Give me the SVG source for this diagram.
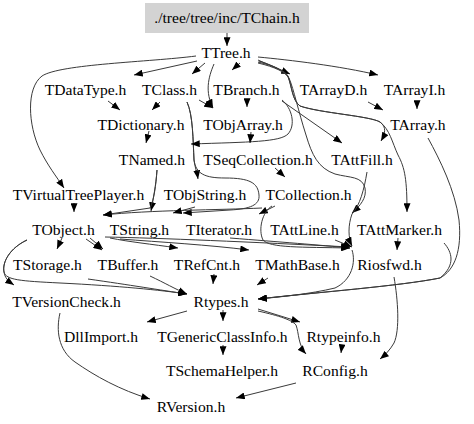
<svg xmlns="http://www.w3.org/2000/svg" width="474" height="424" viewBox="0 0 474 424">
<style>
.t text{font-size:15.6px;text-anchor:middle;fill:#000}
.e path{fill:none;stroke:#3a3a3a;stroke-width:1;marker-end:url(#ah)}
</style>
<defs>
<marker id="ah" viewBox="0 0 10 8" refX="10" refY="4" markerWidth="9" markerHeight="7" orient="auto" markerUnits="userSpaceOnUse"><path d="M0,0 L10,4 L0,8 z" fill="#000"/></marker>
</defs>
<rect width="474" height="424" fill="#fff"/>
<g class="e" id="edges">
<path d="M227,33 L227,46"/>
<path d="M196,56 C150,62 60,64 42,76 C26,88 28,125 40,150 C48,166 56,176 64,188"/>
<path d="M197,61 L134,75"/>
<path d="M205,63 L192,74"/>
<path d="M214,64 C208,78 205,92 213,108"/>
<path d="M199,100 L213,108"/>
<path d="M240,63 L232,70"/>
<path d="M258,60 L290,74"/>
<path d="M258,57 C290,60 340,66 378,75"/>
<path d="M258,62 C275,66 285,71 288,76 C292,86 292,100 300,106 C320,113 370,116 380,122 C387,127 385,134 381,141"/>
<path d="M258,63 C275,67 285,72 288,77 C292,87 292,100 300,106 C320,113 370,116 380,122 C390,130 392,142 398,155 C405,168 407,180 407,212"/>
<path d="M259,61 C275,66 286,72 289,78 C294,90 298,110 306,135 C312,155 318,168 335,174 C350,178 362,176 365,188 C367,198 360,206 352,213"/>
<path d="M108,101 L120,110"/>
<path d="M160,102 L152,110"/>
<path d="M187,102 C193,115 193,140 194,160 C195,168 197,172 198,179"/>
<path d="M187,102 C193,115 193,140 194,160 C196,174 205,178 225,178 C250,178 258,183 259,195 C260,205 250,209 230,210 L183,213"/>
<path d="M247,100 L247,107"/>
<path d="M282,100 C292,108 296,125 288,134 C280,142 250,142 191,144"/>
<path d="M282,101 L342,143"/>
<path d="M368,102 L383,110"/>
<path d="M417,101 L417,109"/>
<path d="M149,131 L146,143"/>
<path d="M251,132 L250,143"/>
<path d="M275,168 L285,177"/>
<path d="M157,170 C156,185 153,200 151,211"/>
<path d="M157,170 C156,185 154,200 150,208 L103,215"/>
<path d="M262,208 C220,210 150,210 103,215"/>
<path d="M195,207 L173,213"/>
<path d="M275,206 L259,214"/>
<path d="M74,203 L74,212"/>
<path d="M272,206 C262,212 258,230 263,240 C270,248 300,247 350,248"/>
<path d="M367,172 C364,190 360,205 352,214 C348,225 348,238 352,246"/>
<path d="M335,240 L352,247"/>
<path d="M398,238 L397,250"/>
<path d="M62,238 L57,249"/>
<path d="M86,239 L102,250"/>
<path d="M90,238 L103,249"/>
<path d="M110,238 C130,242 150,244 178,248"/>
<path d="M120,239 C160,242 210,245 249,250"/>
<path d="M105,237 C160,238 250,242 350,247"/>
<path d="M230,238 C280,242 320,245 350,248"/>
<path d="M27,240 C10,248 2,262 4,272 C5,278 8,281 14,285"/>
<path d="M27,240 C10,248 2,262 4,272 C6,280 20,281 60,283 C120,286 160,290 187,294"/>
<path d="M88,279 C130,285 160,290 187,294"/>
<path d="M150,276 C165,283 175,289 187,294"/>
<path d="M214,274 L213,284"/>
<path d="M268,278 L257,285"/>
<path d="M428,138 C440,160 455,190 459,220 C462,250 455,270 440,278 C400,286 320,292 258,299"/>
<path d="M444,243 C452,252 456,265 440,278 C400,286 320,292 258,299"/>
<path d="M352,250 C356,262 352,280 335,288 C310,294 280,297 258,299"/>
<path d="M394,277 C398,300 400,330 394,343 C390,350 385,355 380,359"/>
<path d="M187,311 L147,322"/>
<path d="M223,310 L223,321"/>
<path d="M258,309 L300,322"/>
<path d="M258,311 C280,316 292,320 296,325 C299,333 298,345 306,354"/>
<path d="M342,345 L341,353"/>
<path d="M223,345 L223,355"/>
<path d="M296,383 L236,398"/>
<path d="M60,313 C56,330 58,350 75,362 C95,376 120,390 150,399"/>
</g>
<g class="t" font-family="'Liberation Serif', 'DejaVu Serif', 'Times New Roman', serif">
<g id="n_TChain"><rect x="145" y="3" width="164" height="30" fill="#d3d3d3"/><text x="227" y="23">./tree/tree/inc/TChain.h</text></g>
<g id="n_TTree"><text x="226" y="58">TTree.h</text></g>
<g id="n_TDataType"><text x="85.5" y="95">TDataType.h</text></g>
<g id="n_TClass"><text x="169.5" y="95">TClass.h</text></g>
<g id="n_TBranch"><text x="246.5" y="95">TBranch.h</text></g>
<g id="n_TArrayD"><text x="333.5" y="95">TArrayD.h</text></g>
<g id="n_TArrayI"><text x="414.5" y="95">TArrayI.h</text></g>
<g id="n_TDictionary"><text x="141" y="130">TDictionary.h</text></g>
<g id="n_TObjArray"><text x="243" y="130">TObjArray.h</text></g>
<g id="n_TArray"><text x="418" y="130">TArray.h</text></g>
<g id="n_TNamed"><text x="152" y="165">TNamed.h</text></g>
<g id="n_TSeqCollection"><text x="258" y="165">TSeqCollection.h</text></g>
<g id="n_TAttFill"><text x="362" y="165">TAttFill.h</text></g>
<g id="n_TVirtualTreePlayer"><text x="78.5" y="200">TVirtualTreePlayer.h</text></g>
<g id="n_TObjString"><text x="205" y="200">TObjString.h</text></g>
<g id="n_TCollection"><text x="308.5" y="200">TCollection.h</text></g>
<g id="n_TObject"><text x="63.5" y="235">TObject.h</text></g>
<g id="n_TString"><text x="139.5" y="235">TString.h</text></g>
<g id="n_TIterator"><text x="219" y="235">TIterator.h</text></g>
<g id="n_TAttLine"><text x="304.5" y="235">TAttLine.h</text></g>
<g id="n_TAttMarker"><text x="399.5" y="235">TAttMarker.h</text></g>
<g id="n_TStorage"><text x="47.5" y="270">TStorage.h</text></g>
<g id="n_TBuffer"><text x="128" y="270">TBuffer.h</text></g>
<g id="n_TRefCnt"><text x="207" y="270">TRefCnt.h</text></g>
<g id="n_TMathBase"><text x="297.5" y="270">TMathBase.h</text></g>
<g id="n_Riosfwd"><text x="389.5" y="270">Riosfwd.h</text></g>
<g id="n_TVersionCheck"><text x="66.5" y="307">TVersionCheck.h</text></g>
<g id="n_Rtypes"><text x="221" y="307">Rtypes.h</text></g>
<g id="n_DllImport"><text x="101" y="342">DllImport.h</text></g>
<g id="n_TGenericClassInfo"><text x="222.5" y="342">TGenericClassInfo.h</text></g>
<g id="n_Rtypeinfo"><text x="343.5" y="342">Rtypeinfo.h</text></g>
<g id="n_TSchemaHelper"><text x="222" y="376">TSchemaHelper.h</text></g>
<g id="n_RConfig"><text x="335" y="376">RConfig.h</text></g>
<g id="n_RVersion"><text x="191" y="412">RVersion.h</text></g>
</g>
</svg>
